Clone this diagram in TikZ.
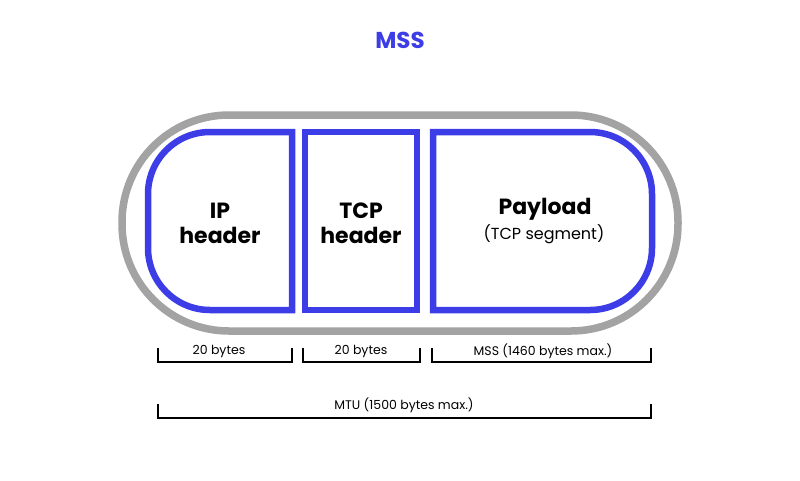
\documentclass[tikz,border=0pt]{standalone}
\usepackage{fontspec}
\setmainfont{Poppins}
\begin{document}
\begin{tikzpicture}[x=1pt,y=-1pt,
  blu/.style={draw=blue1,line width=6.5pt},
  brk/.style={draw=black,line width=2.2pt},
  lbl/.style={font=\fontsize{12.5}{14}\selectfont,inner sep=0pt},
  big/.style={font=\fontsize{22}{25}\selectfont\bfseries,align=center,inner sep=0pt}]
\definecolor{blue1}{HTML}{3D3DE8}
\definecolor{gray1}{HTML}{A3A3A3}
\useasboundingbox[fill=white] (0,0) rectangle (800,480);
\node[font=\fontsize{23}{26}\selectfont\bfseries,text=blue1] (title) at (400,40) {MSS};
\draw[draw=gray1,line width=7.5pt,rounded corners=107pt] (122,115) rectangle (678,331);
\draw[blu] (292,132) -- (292,310) [rounded corners=62pt] -- (148,310) -- (148,132) [sharp corners]-- cycle;
\draw[blu] (305,132) rectangle (417,310);
\draw[blu] (433,132) -- (433,310) [rounded corners=62pt] -- (652,310) -- (652,132) [sharp corners]-- cycle;
\node[big] (ip) at (220,223) {IP\\header};
\node[big] (tcp) at (361,223) {TCP\\header};
\node[big] (pl) at (545,209) {Payload};
\node[lbl,font=\fontsize{16}{18}\selectfont] (seg) at (544,234) {(TCP segment)};
\draw[brk] (158,348) -- (158,362) -- (292,362) -- (292,348);
\draw[brk] (303,348) -- (303,362) -- (420,362) -- (420,348);
\draw[brk] (432,348) -- (432,362) -- (651,362) -- (651,348);
\draw[brk] (158,404) -- (158,418) -- (651,418) -- (651,404);
\node[lbl] (b1) at (219,351) {20 bytes};
\node[lbl] (b2) at (361,351) {20 bytes};
\node[lbl] (b3) at (543,351) {MSS (1460 bytes max.)};
\node[lbl] (b4) at (404,405) {MTU (1500 bytes max.)};
\end{tikzpicture}
\end{document}
